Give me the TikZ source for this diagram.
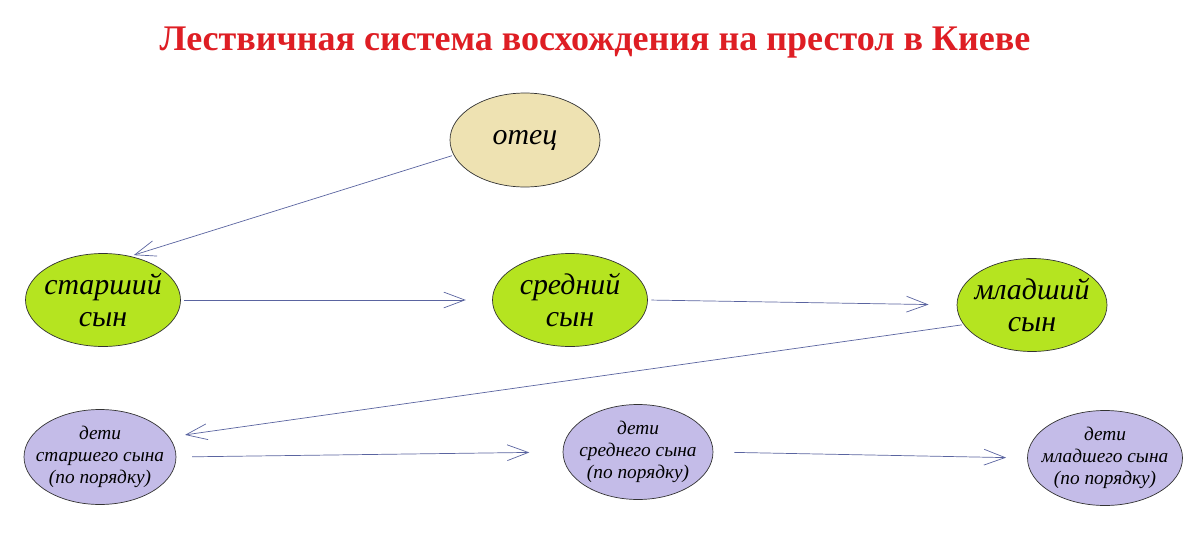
\documentclass[tikz,border=0pt]{standalone}
\usepackage{fontspec}
\setmainfont{Liberation Serif}
\usetikzlibrary{arrows.meta,shapes.geometric}
\definecolor{sonfill}{RGB}{181,228,32}
\definecolor{fatherfill}{RGB}{238,226,178}
\definecolor{kidfill}{RGB}{196,188,232}
\definecolor{linkcol}{RGB}{90,100,160}
\definecolor{titlered}{RGB}{222,30,36}
\tikzset{
  oval/.style={ellipse, draw=black!80, thin, inner sep=-6pt, minimum width=#1*0.02cm, align=center},
  son/.style={oval=155, fill=sonfill, minimum height=1.86cm, font=\itshape\fontsize{17}{18}\selectfont},
  kid/.style={oval=155, fill=kidfill, inner sep=-14pt, minimum height=1.9cm, font=\itshape\fontsize{11}{12.5}\selectfont},
  link/.style={draw=linkcol, -{Straight Barb[length=12pt,width=9pt]}}
}
\begin{document}
\begin{tikzpicture}[x=0.02cm,y=-0.02cm]
\useasboundingbox (0,0) rectangle (1200,541);
\node[font=\bfseries\fontsize{20.5}{21}\selectfont, text=titlered] (title) at (595,43) {Лествичная система восхождения на престол в Киеве};

\node[oval=150, fill=fatherfill, minimum height=1.88cm, font=\itshape\fontsize{17}{18}\selectfont] (father) at (525,140) {отец};
\node[son] (eldest) at (103,300) {старший\\сын};
\node[son] (middle) at (570,300) {средний\\сын};
\node[son, minimum width=3cm] (youngest) at (1032,305) {младший\\сын};
\node[kid, minimum width=3.04cm] (eldestkids) at (100,457) {дети\\старшего сына\\(по порядку)};
\node[kid, minimum width=3cm] (middlekids) at (638,452) {дети\\среднего сына\\(по порядку)};
\node[kid] (youngestkids) at (1105,458) {дети\\младшего сына\\(по порядку)};

\draw[link, shorten <=1pt, shorten >=2pt] (father.192) -- (eldest.58);
\draw[link, shorten <=2pt, shorten >=15pt] (eldest.east) -- (middle.west);
\draw[link, shorten <=2pt, shorten >=16pt] (middle.east) -- (youngest.west);
\draw[link, shorten <=1pt, shorten >=9pt] (youngest.196) -- (eldestkids.16);
\draw[link, shorten <=9pt, shorten >=19pt] (eldestkids.east) -- (middlekids.west);
\draw[link, shorten <=12pt, shorten >=12pt] (middlekids.east) -- (youngestkids.west);
\end{tikzpicture}
\end{document}
